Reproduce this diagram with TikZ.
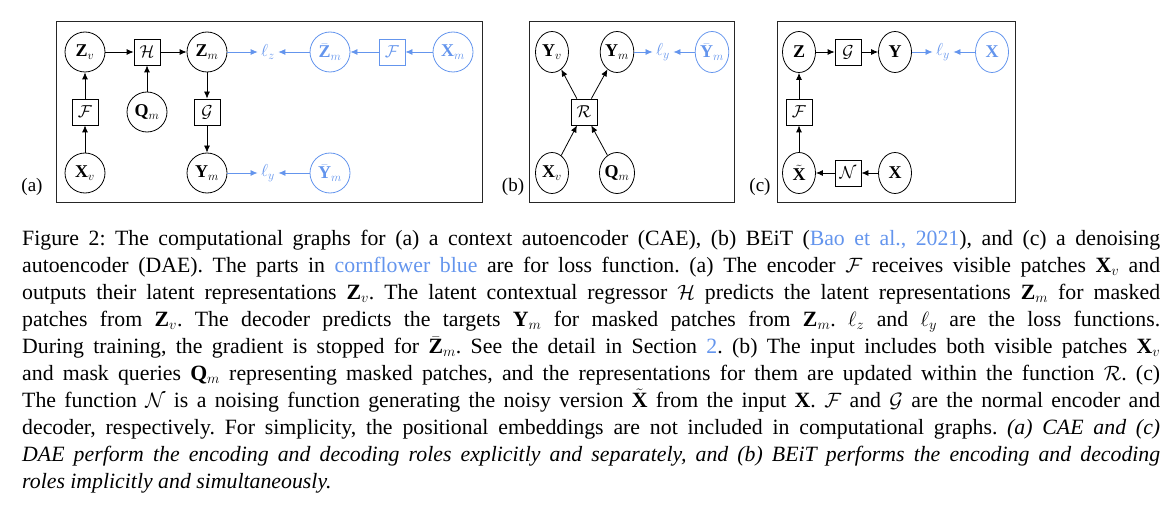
\documentclass[tikz,border=0pt]{standalone}
\usepackage{fontspec}
\setmainfont{Liberation Serif}
\usepackage{amsmath}
\usetikzlibrary{arrows.meta,shapes.geometric}
\definecolor{cblue}{RGB}{100,149,237}
\frenchspacing
\begin{document}
\begin{tikzpicture}[x=1pt,y=-1pt,
  every node/.style={font=\fontsize{18}{21}\selectfont},
  circ/.style={circle,draw,line width=0.8pt,minimum size=40pt,inner sep=0pt},
  ell/.style={ellipse,draw,line width=0.8pt,minimum width=33pt,minimum height=41pt,inner sep=0pt},
  fbox/.style={rectangle,draw,line width=0.8pt,minimum size=26pt,inner sep=0pt},
  frame/.style={draw,line width=1pt,gray!30!black},
  arr/.style={-{Latex[length=7pt,width=6pt]},line width=0.8pt},
  barr/.style={arr,cblue},
  bl/.style={draw=cblue,text=cblue},
  plab/.style={font=\fontsize{19}{22}\selectfont}]
\useasboundingbox (0,0) rectangle (1167,516);
% frames
\draw[frame] (56,22) rectangle (482,202);
\draw[frame] (529,22) rectangle (734,202);
\draw[frame] (777,22) rectangle (1015,202);
\node[plab] (la) at (32,187) {(a)};
\node[plab] (lb) at (513,187) {(b)};
\node[plab] (lc) at (760,187) {(c)};
% panel a
\node[circ] (Zv) at (85,52) {$\mathbf Z_v$};
\node[fbox] (H) at (147,52) {$\mathcal H$};
\node[circ] (Zm) at (207,52) {$\mathbf Z_m$};
\node[text=cblue] (lz) at (268,52) {$\ell_z$};
\node[circ,bl] (Zbm) at (330,52) {$\bar{\mathbf Z}_m$};
\node[fbox,bl] (Fb) at (392,52) {$\mathcal F$};
\node[circ,bl] (Xm) at (453,52) {$\mathbf X_m$};
\node[fbox] (Fa) at (85,112) {$\mathcal F$};
\node[circ] (Qm) at (147,112) {$\mathbf Q_m$};
\node[fbox] (Ga) at (207,112) {$\mathcal G$};
\node[circ] (Xv) at (85,173) {$\mathbf X_v$};
\node[circ] (Ym) at (207,173) {$\mathbf Y_m$};
\node[text=cblue] (ly) at (268,173) {$\ell_y$};
\node[circ,bl] (Ybm) at (330,173) {$\bar{\mathbf Y}_m$};
\draw[arr] (Xv) -- (Fa);
\draw[arr] (Fa) -- (Zv);
\draw[arr] (Zv) -- (H);
\draw[arr] (Qm) -- (H);
\draw[arr] (H) -- (Zm);
\draw[arr] (Zm) -- (Ga);
\draw[arr] (Ga) -- (Ym);
\draw[barr] (Zm) -- (lz);
\draw[barr] (Zbm) -- (lz);
\draw[barr] (Fb) -- (Zbm);
\draw[barr] (Xm) -- (Fb);
\draw[barr] (Ym) -- (ly);
\draw[barr] (Ybm) -- (ly);
% panel b
\node[ell] (bYv) at (552,52) {$\mathbf Y_v$};
\node[ell] (bYm) at (617,52) {$\mathbf Y_m$};
\node[text=cblue] (bly) at (663,52) {$\ell_y$};
\node[ell,bl] (bYbm) at (712,52) {$\bar{\mathbf Y}_m$};
\node[fbox] (R) at (584,112) {$\mathcal R$};
\node[ell] (bXv) at (552,173) {$\mathbf X_v$};
\node[ell] (bQm) at (617,173) {$\mathbf Q_m$};
\draw[arr] (bXv) -- (R);
\draw[arr] (bQm) -- (R);
\draw[arr] (R) -- (bYv);
\draw[arr] (R) -- (bYm);
\draw[barr] (bYm) -- (bly);
\draw[barr] (bYbm) -- (bly);
% panel c
\node[ell] (cZ) at (799,52) {$\mathbf Z$};
\node[fbox] (cG) at (848,52) {$\mathcal G$};
\node[ell] (cY) at (895,52) {$\mathbf Y$};
\node[text=cblue] (cly) at (943,52) {$\ell_y$};
\node[ell,bl] (cXb) at (992,52) {$\mathbf X$};
\node[fbox] (cF) at (799,112) {$\mathcal F$};
\node[ell] (cXt) at (799,173) {$\tilde{\mathbf X}$};
\node[fbox] (cN) at (848,173) {$\mathcal N$};
\node[ell] (cX) at (895,173) {$\mathbf X$};
\draw[arr] (cX) -- (cN);
\draw[arr] (cN) -- (cXt);
\draw[arr] (cXt) -- (cF);
\draw[arr] (cF) -- (cZ);
\draw[arr] (cZ) -- (cG);
\draw[arr] (cG) -- (cY);
\draw[barr] (cY) -- (cly);
\draw[barr] (cXb) -- (cly);
% caption
\node[anchor=north west,inner sep=0pt,text width=1138pt,align=justify,
  font=\fontsize{21.8}{27}\selectfont] (cap) at (22,230) {%
Figure 2: The computational graphs for (a) a context autoencoder (CAE), (b) BEiT ({\color{cblue}Bao et al., 2021}), and (c) a denoising\linebreak
autoencoder (DAE). The parts in {\color{cblue}cornflower blue} are for loss function. (a) The encoder $\mathcal F$ receives visible patches $\mathbf X_v$ and\linebreak
outputs their latent representations $\mathbf Z_v$. The latent contextual regressor $\mathcal H$ predicts the latent representations $\mathbf Z_m$ for masked\linebreak
patches from $\mathbf Z_v$. The decoder predicts the targets $\mathbf Y_m$ for masked patches from $\mathbf Z_m$. $\ell_z$ and $\ell_y$ are the loss functions.\linebreak
During training, the gradient is stopped for $\bar{\mathbf Z}_m$. See the detail in Section {\color{cblue}2}. (b) The input includes both visible patches $\mathbf X_v$\linebreak
and mask queries $\mathbf Q_m$ representing masked patches, and the representations for them are updated within the function $\mathcal R$. (c)\linebreak
The function $\mathcal N$ is a noising function generating the noisy version $\tilde{\mathbf X}$ from the input $\mathbf X$. $\mathcal F$ and $\mathcal G$ are the normal encoder and\linebreak
decoder, respectively. For simplicity, the positional embeddings are not included in computational graphs. \textit{(a) CAE and (c)}\linebreak
\textit{DAE perform the encoding and decoding roles explicitly and separately, and (b) BEiT performs the encoding and decoding}\linebreak
\textit{roles implicitly and simultaneously.}};
\end{tikzpicture}
\end{document}
